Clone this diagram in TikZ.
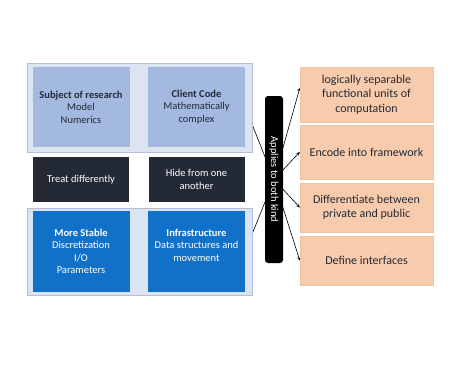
\documentclass[tikz,border=0pt]{standalone}
\usepackage{fontspec}
\setmainfont{Carlito}
\usetikzlibrary{arrows,positioning,backgrounds}
\definecolor{grpfill}{HTML}{DCE4F2}
\definecolor{grpline}{HTML}{B4C0D8}
\definecolor{paleblue}{HTML}{A3B9E0}
\definecolor{deepblue}{HTML}{1170C8}
\definecolor{darknavy}{HTML}{232A36}
\definecolor{peach}{HTML}{F8CBAD}
\definecolor{peachline}{HTML}{EFC3A6}

\begin{document}
\begin{tikzpicture}[x=1pt, y=-1pt,
			group/.style={draw=grpline, fill=grpfill, line width=0.8pt,
				minimum width=225pt},
			topbox/.style={fill=paleblue, align=center, font=\fontsize{10.5}{12.5}\selectfont,
				text=darknavy, minimum width=97pt, minimum height=80pt},
			botbox/.style={fill=deepblue, align=center, font=\fontsize{10.5}{12.5}\selectfont,
				text=white, minimum width=97pt, minimum height=81pt},
			midbox/.style={fill=darknavy, align=center, font=\fontsize{10.5}{12.5}\selectfont,
				text=white, minimum width=96pt, minimum height=45pt},
			task/.style={draw=peachline, fill=peach, align=center,
				font=\fontsize{12}{14.5}\selectfont, text=darknavy,
				minimum width=133pt},
			link/.style={draw, -stealth, semithick}
		]
		\useasboundingbox (0,0) rectangle (474,365);
		% left column of groups
		\node[group, minimum height=89pt] (topgrp) at (139.5,107.5) {};
		\node[topbox] (subject) at (81,107) {\textbf{Subject of research}\\ Model\\ Numerics};
		\node[topbox] (client) at (196.5,107) {\textbf{Client Code}\\ Mathematically\\ complex};
		\node[midbox] (treat) at (81,179.5) {Treat differently};
		\node[midbox] (hide) at (196.5,179.5) {Hide from one\\ another};
		\node[group, minimum height=87pt] (botgrp) at (139.5,251.5) {};
		\node[botbox] (stable) at (81,251.5) {\textbf{More Stable}\\ Discretization\\ I/O\\ Parameters};
		\node[botbox] (infra) at (196.5,251.5) {\textbf{Infrastructure}\\ Data structures and\\ movement\\ ~};
		% right column
		\node[task, minimum height=55pt] (units) at (366.5,94.5) {logically separable\\ functional units of\\ computation};
		\node[task, minimum height=54pt] (encode) at (366.5,152) {Encode into framework};
		\node[task, minimum height=49pt] (private) at (366.5,207.5) {Differentiate between\\ private and public};
		\node[task, minimum height=49pt] (interfaces) at (366.5,260.5) {Define interfaces};
		% middle bar
		\node[fill=black, rounded corners=3pt, minimum width=167pt, minimum height=18pt,
			text=white, font=\fontsize{10.5}{12.5}\selectfont, rotate=-90] (applies) at (274,179.5)
			{Applies to both kind};
		\begin{scope}[on background layer]
			\draw[semithick] (client.east) -- (applies.center);
			\draw[semithick] (infra.east) -- (applies.center);
			\draw[link] (applies.center) -- ([yshift=6.5pt]units.west);
			\draw[link] (applies.center) -- (encode.west);
			\draw[link] (applies.center) -- (private.west);
			\draw[link] (applies.center) -- (interfaces.west);
		\end{scope}
\end{tikzpicture}
\end{document}
